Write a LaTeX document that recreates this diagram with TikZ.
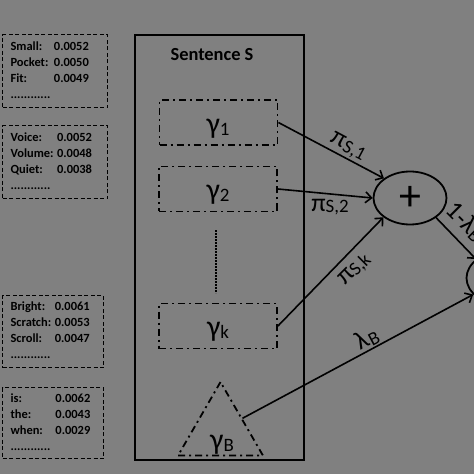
\documentclass[tikz,border=0pt]{standalone}
\usepackage{fontspec}
\setmainfont{Carlito}
\usetikzlibrary{arrows.meta,shapes.geometric}
\definecolor{bg}{RGB}{128,128,128}
\newcommand{\symsub}[4]{{\fontsize{#3}{#3}\selectfont #1}\raisebox{-0.18em}{\fontsize{#4}{#4}\selectfont #2}}
\begin{document}
\begin{tikzpicture}[x=1bp,y=-1bp,
  wbox/.style={draw, line width=1.1bp, dash pattern=on 4bp off 2.5bp, rectangle, anchor=north west,
    inner xsep=8bp, inner ysep=0pt, align=left, font=\bfseries\fontsize{12.5}{16}\selectfont},
  gbox/.style={draw, line width=1.8bp, dash pattern=on 7bp off 4bp on 2bp off 4bp,
    minimum width=118bp, minimum height=45bp, inner sep=0pt},
  arr/.style={line width=1.6bp, -{Straight Barb[length=6bp,width=11bp,line width=1.6bp]}},
  lab/.style={inner sep=0pt},
  ell/.style={draw, ellipse, line width=1.8bp, minimum width=73bp, minimum height=53bp, inner sep=0pt}]
\useasboundingbox (0,0) rectangle (474,474);
\clip (0,0) rectangle (474,474);
\fill[bg] (0,0) rectangle (474,474);

% word boxes
\node[wbox, text width=89bp, minimum height=73bp] (b1) at (2,34) {%
\begin{tabular}{@{}l@{\hspace{3.5bp}}l@{}}Small: & 0.0052\\ Pocket: & 0.0050\\ Fit: & 0.0049\\ ............ & \end{tabular}};
\node[wbox, text width=89bp, minimum height=73bp] (b2) at (2,125) {%
\begin{tabular}{@{}l@{\hspace{3.5bp}}l@{}}Voice: & 0.0052\\ Volume: & 0.0048\\ Quiet: & 0.0038\\ ............ & \end{tabular}};
\node[wbox, text width=85bp, minimum height=72bp] (b3) at (2,295) {%
\begin{tabular}{@{}l@{\hspace{3.5bp}}l@{}}Bright: & 0.0061\\ Scratch: & 0.0053\\ Scroll: & 0.0047\\ ............ & \end{tabular}};
\node[wbox, text width=85bp, minimum height=71bp] (b4) at (2,387) {%
\begin{tabular}{@{}l@{\hspace{5bp}}l@{}}is: & 0.0062\\ the: & 0.0043\\ when: & 0.0029\\ ............ & \end{tabular}};

% sentence box
\node[draw, line width=1.8bp, minimum width=169bp, minimum height=425bp, anchor=north west, inner sep=0pt] (sent) at (134,34) {};
\node[lab, font=\bfseries\fontsize{18.5}{20}\selectfont] (title) at (212,55) {Sentence S};

\node[gbox] (g1) at (218.5,122.5) {};
\node[gbox] (g2) at (218,189) {};
\node[gbox] (gk) at (218,326) {};
\node[lab] (l1) at (218,129) {\symsub{γ}{1}{30}{19}};
\node[lab] (l2) at (218,195) {\symsub{γ}{2}{30}{19}};
\node[lab] (lk) at (218,332) {\symsub{γ}{k}{30}{19}};

\coordinate (d1) at (216,230);
\coordinate (d2) at (216,293);
\draw[line width=1.6bp, dash pattern=on 1.5bp off 1.5bp] (d1) -- (d2);

\node[draw, regular polygon, regular polygon sides=3, minimum size=98bp, inner sep=0pt,
  line width=1.8bp, dash pattern=on 7bp off 4bp on 2bp off 4bp] (tri) at (220.5,431) {};
\node[lab] (lB) at (222,445) {\symsub{γ}{B}{30}{19}};

% mixture nodes
\node[ell] (plus) at (410,198) {\fontsize{44}{44}\selectfont +};
\node[ell] (c2) at (503,278) {};

\draw[arr] (g1.east) -- (plus.143);
\draw[arr] (g2.east) -- (plus.180);
\draw[arr] (gk.east) -- (plus.216);
\draw[arr] (plus.-37) -- (c2.145);
\draw[arr] (tri.30) -- (c2.209);

\node[lab, rotate=-28] (p1) at (348,147) {\symsub{π}{S,1}{26}{19}};
\node[lab] (p2) at (330,207) {\symsub{π}{S,2}{26}{19}};
\node[lab, rotate=45] (pk) at (355,270) {\symsub{π}{S,k}{26}{19}};
\node[lab, rotate=28] (lb) at (367,338) {\symsub{λ}{B}{26}{19}};
\node[lab, rotate=-45, anchor=west] (oml) at (450,206) {\symsub{1-λ}{B}{26}{19}};
\end{tikzpicture}
\end{document}
